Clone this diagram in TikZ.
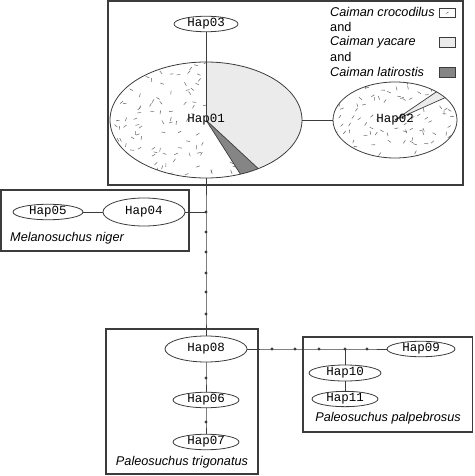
\documentclass[tikz,border=0pt]{standalone}
\usepackage{fontspec}
\setmainfont{Liberation Sans}
\newfontfamily\hapfont{Liberation Mono}
\usetikzlibrary{shapes.geometric,calc}
\definecolor{ln}{HTML}{3C3C3C}
\definecolor{lightg}{HTML}{EBEBEB}
\definecolor{darkg}{HTML}{858585}
\definecolor{hatchc}{HTML}{6E6E6E}
\begin{document}
\begin{tikzpicture}[x=1pt,y=1pt,
 hap/.style={ellipse,draw=ln,line width=0.8pt,inner sep=0pt,fill=white,
   font=\hapfont\fontsize{12.5}{13}\selectfont},
 grp/.style={draw=ln,line width=1.2pt},
 edge/.style={draw=ln,line width=0.8pt},
 dot/.style={circle,fill=ln,inner sep=0pt,minimum size=3.2pt},
 spec/.style={font=\itshape\fontsize{12.7}{14}\selectfont,inner sep=0pt},
 hatch/.style={draw=hatchc,line width=0.55pt}]
\useasboundingbox (0,0) rectangle (474,-476);

% group boxes
\draw[grp] (108,-1) rectangle (463,-185);
\draw[grp] (1,-190) rectangle (189,-251);
\draw[grp] (106,-329) rectangle (258,-474);
\draw[grp] (303,-337) rectangle (472.5,-432);

% ---------- Hap01 pie ----------
\fill[lightg] (206,-120) -- ++(90:96 and 58) arc[start angle=90,end angle=-57,x radius=96,y radius=58] -- cycle;
\fill[darkg] (206,-120) -- ++(-57:96 and 58) arc[start angle=-57,end angle=-69,x radius=96,y radius=58] -- cycle;
\begin{scope}
\clip (206,-120) -- ++(-69:96 and 58) arc[start angle=-69,end angle=-270,x radius=96,y radius=58] -- cycle;
\pgfmathsetseed{7}
\foreach \i in {1,...,190}{
  \pgfmathsetmacro\xx{110+rnd*192}
  \pgfmathsetmacro\yy{-62-rnd*116}
  \pgfmathsetmacro\aa{rnd*180}
  \draw[hatch] (\xx,\yy) -- ++(\aa:3.8);
}
\end{scope}
\draw[ln,line width=0.7pt] (206,-120) -- ++(-57:96 and 58);
\draw[ln,line width=0.7pt] (206,-120) -- ++(-69:96 and 58);

% ---------- Hap02 pie ----------
\fill[lightg] (395,-120) -- ++(36:62 and 38) arc[start angle=36,end angle=48,x radius=62,y radius=38] -- cycle;
\begin{scope}
\clip (395,-120) -- ++(48:62 and 38) arc[start angle=48,end angle=396,x radius=62,y radius=38] -- cycle;
\pgfmathsetseed{11}
\foreach \i in {1,...,95}{
  \pgfmathsetmacro\xx{333+rnd*124}
  \pgfmathsetmacro\yy{-82-rnd*76}
  \pgfmathsetmacro\aa{rnd*180}
  \draw[hatch] (\xx,\yy) -- ++(\aa:3.8);
}
\end{scope}
\draw[ln,line width=0.7pt] (395,-120) -- ++(36:62 and 38);
\draw[ln,line width=0.7pt] (395,-120) -- ++(48:62 and 38);

% ---------- haplotype nodes ----------
\node[hap,fill=none,minimum width=192pt,minimum height=116pt] (hap01) at (206,-120) {Hap01};
\node[hap,fill=none,minimum width=124pt,minimum height=76pt] (hap02) at (395,-120) {Hap02};
\node[hap,minimum width=64pt,minimum height=14pt] (hap03) at (206,-24) {Hap03};

\node[hap,minimum width=82pt,minimum height=28pt] (hap04) at (144,-212) {Hap04};
\node[hap,minimum width=70pt,minimum height=15pt] (hap05) at (48,-212) {Hap05};

\node[hap,minimum width=82pt,minimum height=26pt] (hap08) at (206,-349) {Hap08};
\node[hap,minimum width=66pt,minimum height=14pt] (hap06) at (206,-400) {Hap06};
\node[hap,minimum width=66pt,minimum height=14pt] (hap07) at (206,-442) {Hap07};

\node[hap,minimum width=68pt,minimum height=14pt] (hap09) at (421,-349) {Hap09};
\node[hap,minimum width=72pt,minimum height=16pt] (hap10) at (345,-373) {Hap10};
\node[hap,minimum width=66pt,minimum height=14pt] (hap11) at (345,-399) {Hap11};

% mutation points
\coordinate (d1) at (206,-212);
\coordinate (d2) at (206,-232);
\coordinate (d3) at (206,-252);
\coordinate (d4) at (206,-273);
\coordinate (d5) at (206,-292);
\coordinate (d6) at (206,-314);
\coordinate (e1) at (206,-378);
\coordinate (e2) at (206,-422);
\coordinate (f1) at (272,-349);
\coordinate (f2) at (295,-349);
\coordinate (f3) at (319,-349);
\coordinate (f4) at (345,-349);
\coordinate (f5) at (367,-349);

% connectors
\draw[edge] (hap03) -- (hap01.center);
\draw[edge] (hap01) -- (hap02);
\draw[edge] (hap05) -- (hap04);
\draw[edge] (hap04) -- (d1);
\draw[edge] (hap01) -- (d1) -- (d2) -- (d3) -- (d4) -- (d5) -- (d6) -- (hap08);
\draw[edge] (hap08) -- (e1) -- (hap06) -- (e2) -- (hap07);
\draw[edge] (hap08) -- (f1) -- (f2) -- (f3) -- (f4) -- (f5) -- (hap09);
\draw[edge] (f4) -- (hap10);
\draw[edge] (hap10) -- (hap11);
\foreach \p in {d1,d2,d3,d4,d5,d6,e1,e2,f1,f2,f3,f4,f5}
  \node[dot] at (\p) {};

% legend
\node[spec,anchor=west] (lg1) at (330,-12) {Caiman crocodilus};
\node[spec,anchor=west] (lg2) at (330,-27) {\upshape and};
\node[spec,anchor=west] (lg3) at (330,-42) {Caiman yacare};
\node[spec,anchor=west] (lg4) at (330,-57) {\upshape and};
\node[spec,anchor=west] (lg5) at (330,-72) {Caiman latirostis};
\draw[ln,line width=0.6pt,fill=white] (439,-8) rectangle (455,-17);
\draw[hatch] (446,-13.5) -- ++(30:3);
\draw[ln,line width=0.6pt,fill=lightg] (439,-37) rectangle (455,-47);
\draw[ln,line width=0.6pt,fill=darkg] (439,-67) rectangle (455,-77);

% species labels
\node[spec,anchor=west] (mel) at (10,-238) {Melanosuchus niger};
\node[spec] (tri) at (182,-462) {Paleosuchus trigonatus};
\node[spec] (pal) at (388,-418) {Paleosuchus palpebrosus};
\end{tikzpicture}
\end{document}
